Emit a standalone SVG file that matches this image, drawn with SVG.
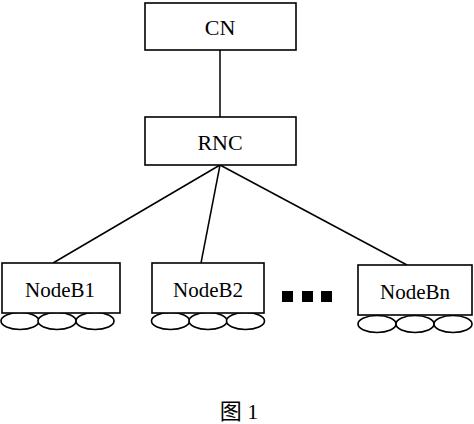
<svg xmlns="http://www.w3.org/2000/svg" width="474" height="424" viewBox="0 0 474 424">
<style>
.box{fill:#fff;stroke:#000;stroke-width:1.6}
.ell{fill:#fff;stroke:#000;stroke-width:1.6}
.lbl{font-family:"Liberation Serif",serif;font-size:21px;text-anchor:middle;fill:#000}
.con{stroke:#000;stroke-width:1.5;fill:none}
</style>
<rect width="474" height="424" fill="#fff"/>
<g id="connectors">
<line class="con" x1="220" y1="50" x2="220" y2="117"/>
<line class="con" x1="220" y1="165" x2="53" y2="263"/>
<line class="con" x1="220" y1="165" x2="201" y2="263"/>
<line class="con" x1="220" y1="165" x2="407" y2="265"/>
</g>
<g id="CN">
<rect class="box" x="145" y="3" width="151" height="47"/>
<text class="lbl" x="220" y="35" style="font-size:22px">CN</text>
</g>
<g id="RNC">
<rect class="box" x="145" y="117" width="151" height="48"/>
<text class="lbl" x="220" y="150" style="font-size:22px">RNC</text>
</g>
<g id="NodeB1">
<ellipse class="ell" cx="20" cy="321" rx="19" ry="8.5"/>
<ellipse class="ell" cx="57" cy="321" rx="19" ry="8.5"/>
<ellipse class="ell" cx="95" cy="321" rx="19" ry="8.5"/>
<rect class="box" x="2" y="263" width="118" height="50"/>
<text class="lbl" x="60" y="297">NodeB1</text>
</g>
<g id="NodeB2">
<ellipse class="ell" cx="170.5" cy="321" rx="19" ry="8.5"/>
<ellipse class="ell" cx="208" cy="321" rx="19" ry="8.5"/>
<ellipse class="ell" cx="245.5" cy="321" rx="19" ry="8.5"/>
<rect class="box" x="152" y="263" width="112" height="50"/>
<text class="lbl" x="208" y="297">NodeB2</text>
</g>
<g id="dots">
<rect x="282" y="291" width="11" height="11" fill="#000"/>
<rect x="302" y="291" width="11" height="11" fill="#000"/>
<rect x="321" y="291" width="11" height="11" fill="#000"/>
</g>
<g id="NodeBn">
<ellipse class="ell" cx="377" cy="324" rx="19" ry="8.5"/>
<ellipse class="ell" cx="415" cy="324" rx="19" ry="8.5"/>
<ellipse class="ell" cx="453" cy="324" rx="19" ry="8.5"/>
<rect class="box" x="358" y="265" width="114" height="50"/>
<text class="lbl" x="415" y="299">NodeBn</text>
</g>
<text x="239" y="419" style="font-family:'Liberation Serif','Noto Sans CJK SC',serif;font-size:22px;text-anchor:middle;fill:#000">图 1</text>
</svg>
